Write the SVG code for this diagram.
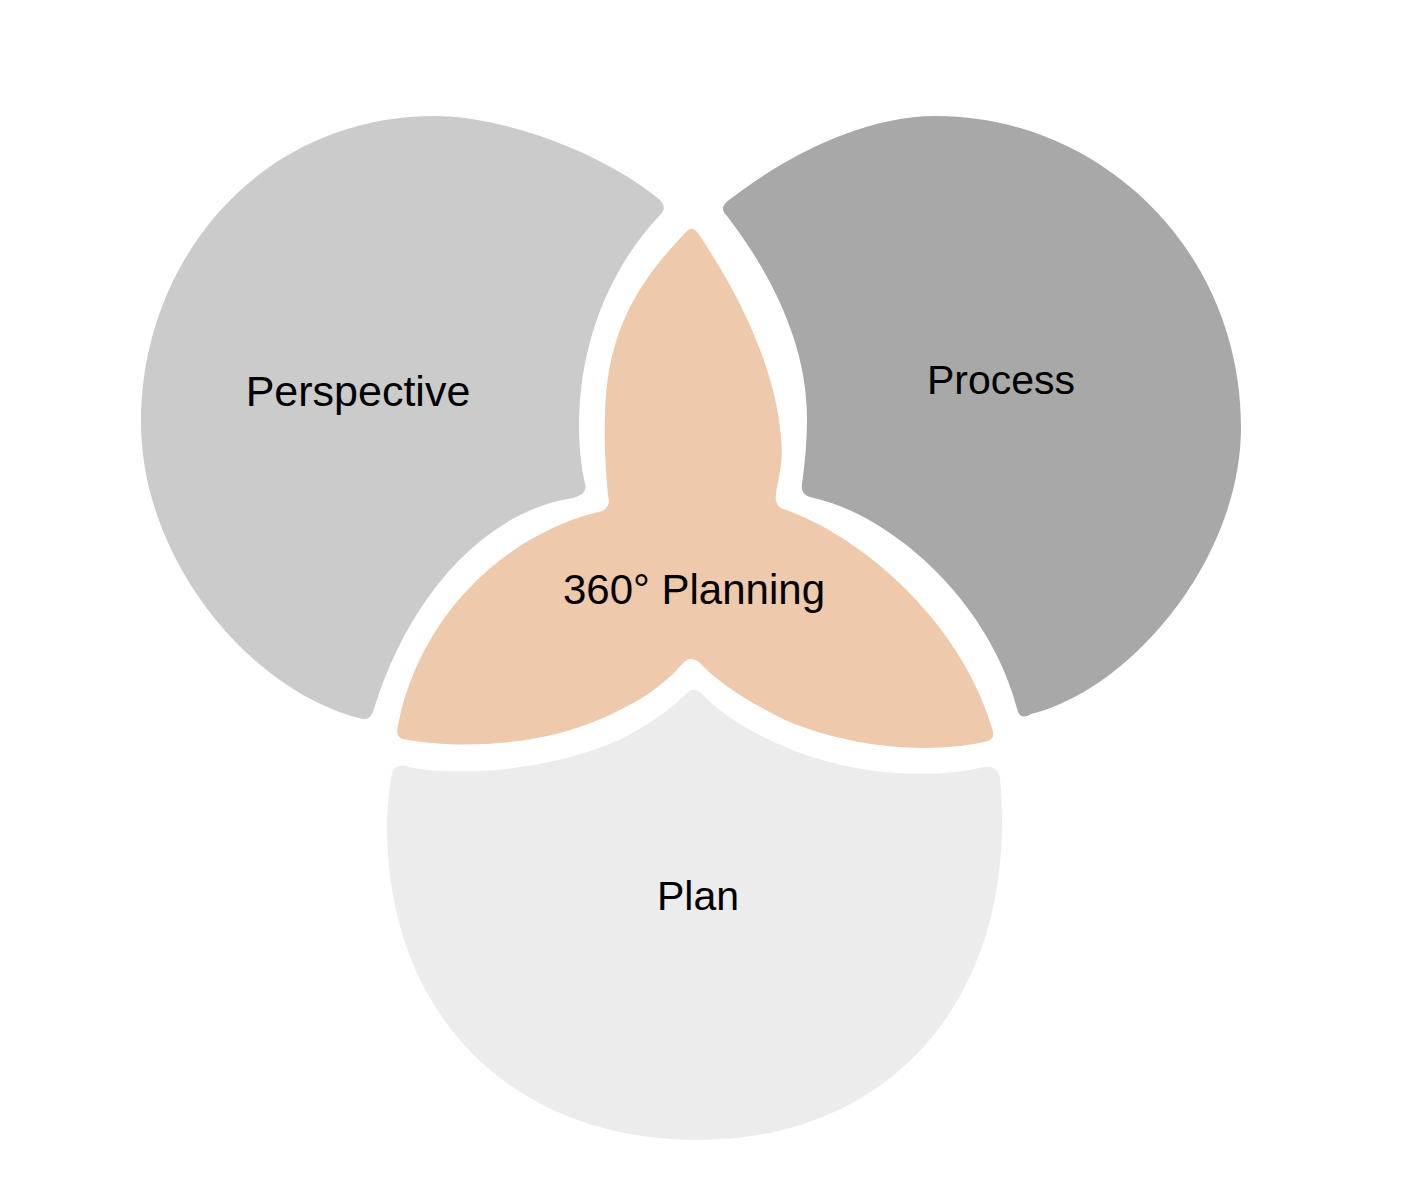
<svg xmlns="http://www.w3.org/2000/svg" width="1406" height="1202" viewBox="0 0 1406 1202">
  <style>
    .lbl { font-family: "Liberation Sans", Arial, sans-serif; font-size: 41px; fill: #000000; text-anchor: middle; }
    .perspective { fill: #cbcbcb; }
    .process { fill: #a8a8a8; }
    .plan { fill: #ebeceb; }
    .core { fill: #eec9ac; }
  </style>
  <rect x="0" y="0" width="1406" height="1202" fill="#ffffff"/>
  <g id="node-perspective">
    <path class="perspective" d="M 435,116 C 500,116 600,150 660,200 Q 668,208 659,216 C 614,264 579,337 579,427 C 579,450 582,470 585,484 Q 588,494 573,498 C 490,510 410,590 373,712 Q 369,722 359,718 C 250,690 141,560 141,422 C 141,260 260,116 435,116 Z"/>
    <text class="lbl" x="358" y="406" style="font-size:43px">Perspective</text>
  </g>
  <g id="node-process">
    <path class="process" d="M 936,116 C 860,116 780,160 729,200 Q 718,208 727,216 C 767,268 807,340 807,418 C 807,445 804,470 802,484 Q 800,496 814,498 C 890,515 990,600 1018,712 Q 1022,720 1031,714 C 1130,690 1241,560 1241,427 C 1241,250 1100,116 936,116 Z"/>
    <text class="lbl" x="1001" y="394">Process</text>
  </g>
  <g id="node-plan">
    <path class="plan" d="M 391,779 Q 392,764 405,766 C 440,776 540,775 619,740 C 645,727 670,710 686,694 Q 693,686 701,693 C 722,715 750,732 785,747 C 850,775 930,780 984,767 Q 998,765 1000,778 C 1001,790 1002,805 1002,822 C 1002,1013 880,1140 698,1140 C 511,1140 387,1014 387,826 C 387,808 389,792 391,779 Z"/>
    <text class="lbl" x="698" y="910">Plan</text>
  </g>
  <g id="node-360-planning">
    <path class="core" d="M 698,233 C 730,280 775,360 781,437 C 784,460 778,480 776,494 Q 774,505 783,509 C 860,535 960,620 992,728 Q 997,740 984,742 C 940,752 860,752 785,720 C 755,705 720,685 700,663 Q 691,655 683,663 C 665,685 635,705 598,720 C 540,745 460,750 403,739 Q 395,737 398,725 C 420,615 505,535 598,512 Q 607,511 609,502 C 606,480 604,445 605,417 C 606,330 640,280 686,232 Q 692,225 698,233 Z"/>
    <text class="lbl" x="694" y="604" style="font-size:42px">360° Planning</text>
  </g>
  <g id="connectors"/>
</svg>
